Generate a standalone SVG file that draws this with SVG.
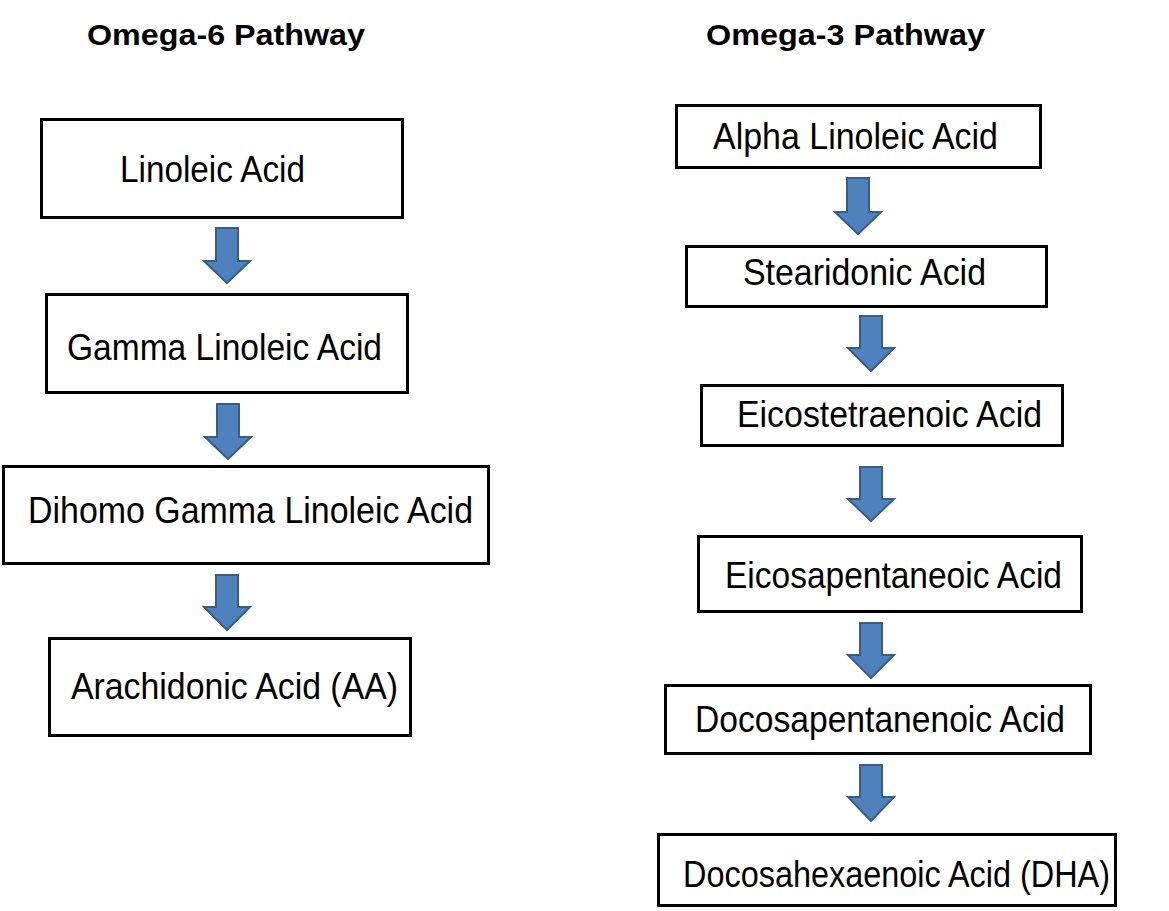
<svg xmlns="http://www.w3.org/2000/svg" width="1169" height="911" viewBox="0 0 1169 911">
<style>
.box{fill:#fff;stroke:#000;stroke-width:3}
.lbl{font-family:"Liberation Sans",Arial,sans-serif;font-size:36px;fill:#000}
.ttl{font-family:"Liberation Sans",Arial,sans-serif;font-size:30px;font-weight:bold;fill:#000}
.arr{fill:#4F81BD;stroke:#385D8A;stroke-width:2;stroke-linejoin:miter}
</style>
<rect width="1169" height="911" fill="#fff"/>
<g id="titles">
<text class="ttl" x="87" y="45" textLength="278" lengthAdjust="spacingAndGlyphs">Omega-6 Pathway</text>
<text class="ttl" x="706" y="45" textLength="279" lengthAdjust="spacingAndGlyphs">Omega-3 Pathway</text>
</g>
<g id="connectors">
<path class="arr" d="M216,228 H238 V261 H250 L227,283 L204,261 H216 Z"/>
<path class="arr" d="M217,404 H239 V437 H251 L228,459 L205,437 H217 Z"/>
<path class="arr" d="M216,575 H238 V607 H250 L227,630 L204,607 H216 Z"/>
<path class="arr" d="M847,178 H869 V212 H881 L858,234 L835,212 H847 Z"/>
<path class="arr" d="M860,316 H882 V348 H894 L871,371 L848,348 H860 Z"/>
<path class="arr" d="M860,467 H882 V499 H894 L871,521 L848,499 H860 Z"/>
<path class="arr" d="M860,623 H882 V655 H894 L871,678 L848,655 H860 Z"/>
<path class="arr" d="M860,765 H882 V797 H894 L871,821 L848,797 H860 Z"/>
</g>
<g id="linoleic">
<rect class="box" x="41.5" y="119.5" width="361" height="98"/>
<text class="lbl" x="120" y="182" textLength="185" lengthAdjust="spacingAndGlyphs">Linoleic Acid</text>
</g>
<g id="gamma-linoleic">
<rect class="box" x="46.5" y="294.5" width="361" height="98"/>
<text class="lbl" x="67" y="360" textLength="315" lengthAdjust="spacingAndGlyphs">Gamma Linoleic Acid</text>
</g>
<g id="dihomo-gamma-linoleic">
<rect class="box" x="3.5" y="466.5" width="485" height="97"/>
<text class="lbl" x="28" y="523" textLength="445" lengthAdjust="spacingAndGlyphs">Dihomo Gamma Linoleic Acid</text>
</g>
<g id="arachidonic">
<rect class="box" x="49.5" y="638.5" width="361" height="97"/>
<text class="lbl" x="71" y="699" textLength="327" lengthAdjust="spacingAndGlyphs">Arachidonic Acid (AA)</text>
</g>
<g id="alpha-linoleic">
<rect class="box" x="676.5" y="105.5" width="364" height="62"/>
<text class="lbl" x="713" y="149" textLength="285" lengthAdjust="spacingAndGlyphs">Alpha Linoleic Acid</text>
</g>
<g id="stearidonic">
<rect class="box" x="686.5" y="246.5" width="360" height="60"/>
<text class="lbl" x="743" y="285" textLength="243" lengthAdjust="spacingAndGlyphs">Stearidonic Acid</text>
</g>
<g id="eicostetraenoic">
<rect class="box" x="701.5" y="385.5" width="361" height="60"/>
<text class="lbl" x="737" y="427" textLength="305" lengthAdjust="spacingAndGlyphs">Eicostetraenoic Acid</text>
</g>
<g id="eicosapentaneoic">
<rect class="box" x="698.5" y="536.5" width="383" height="75"/>
<text class="lbl" x="725" y="588" textLength="337" lengthAdjust="spacingAndGlyphs">Eicosapentaneoic Acid</text>
</g>
<g id="docosapentanenoic">
<rect class="box" x="665.5" y="685.5" width="425" height="68"/>
<text class="lbl" x="695" y="732" textLength="370" lengthAdjust="spacingAndGlyphs">Docosapentanenoic Acid</text>
</g>
<g id="docosahexaenoic">
<rect class="box" x="658.5" y="834.5" width="457" height="71"/>
<text class="lbl" x="683" y="887" textLength="427" lengthAdjust="spacingAndGlyphs">Docosahexaenoic Acid (DHA)</text>
</g>
</svg>
